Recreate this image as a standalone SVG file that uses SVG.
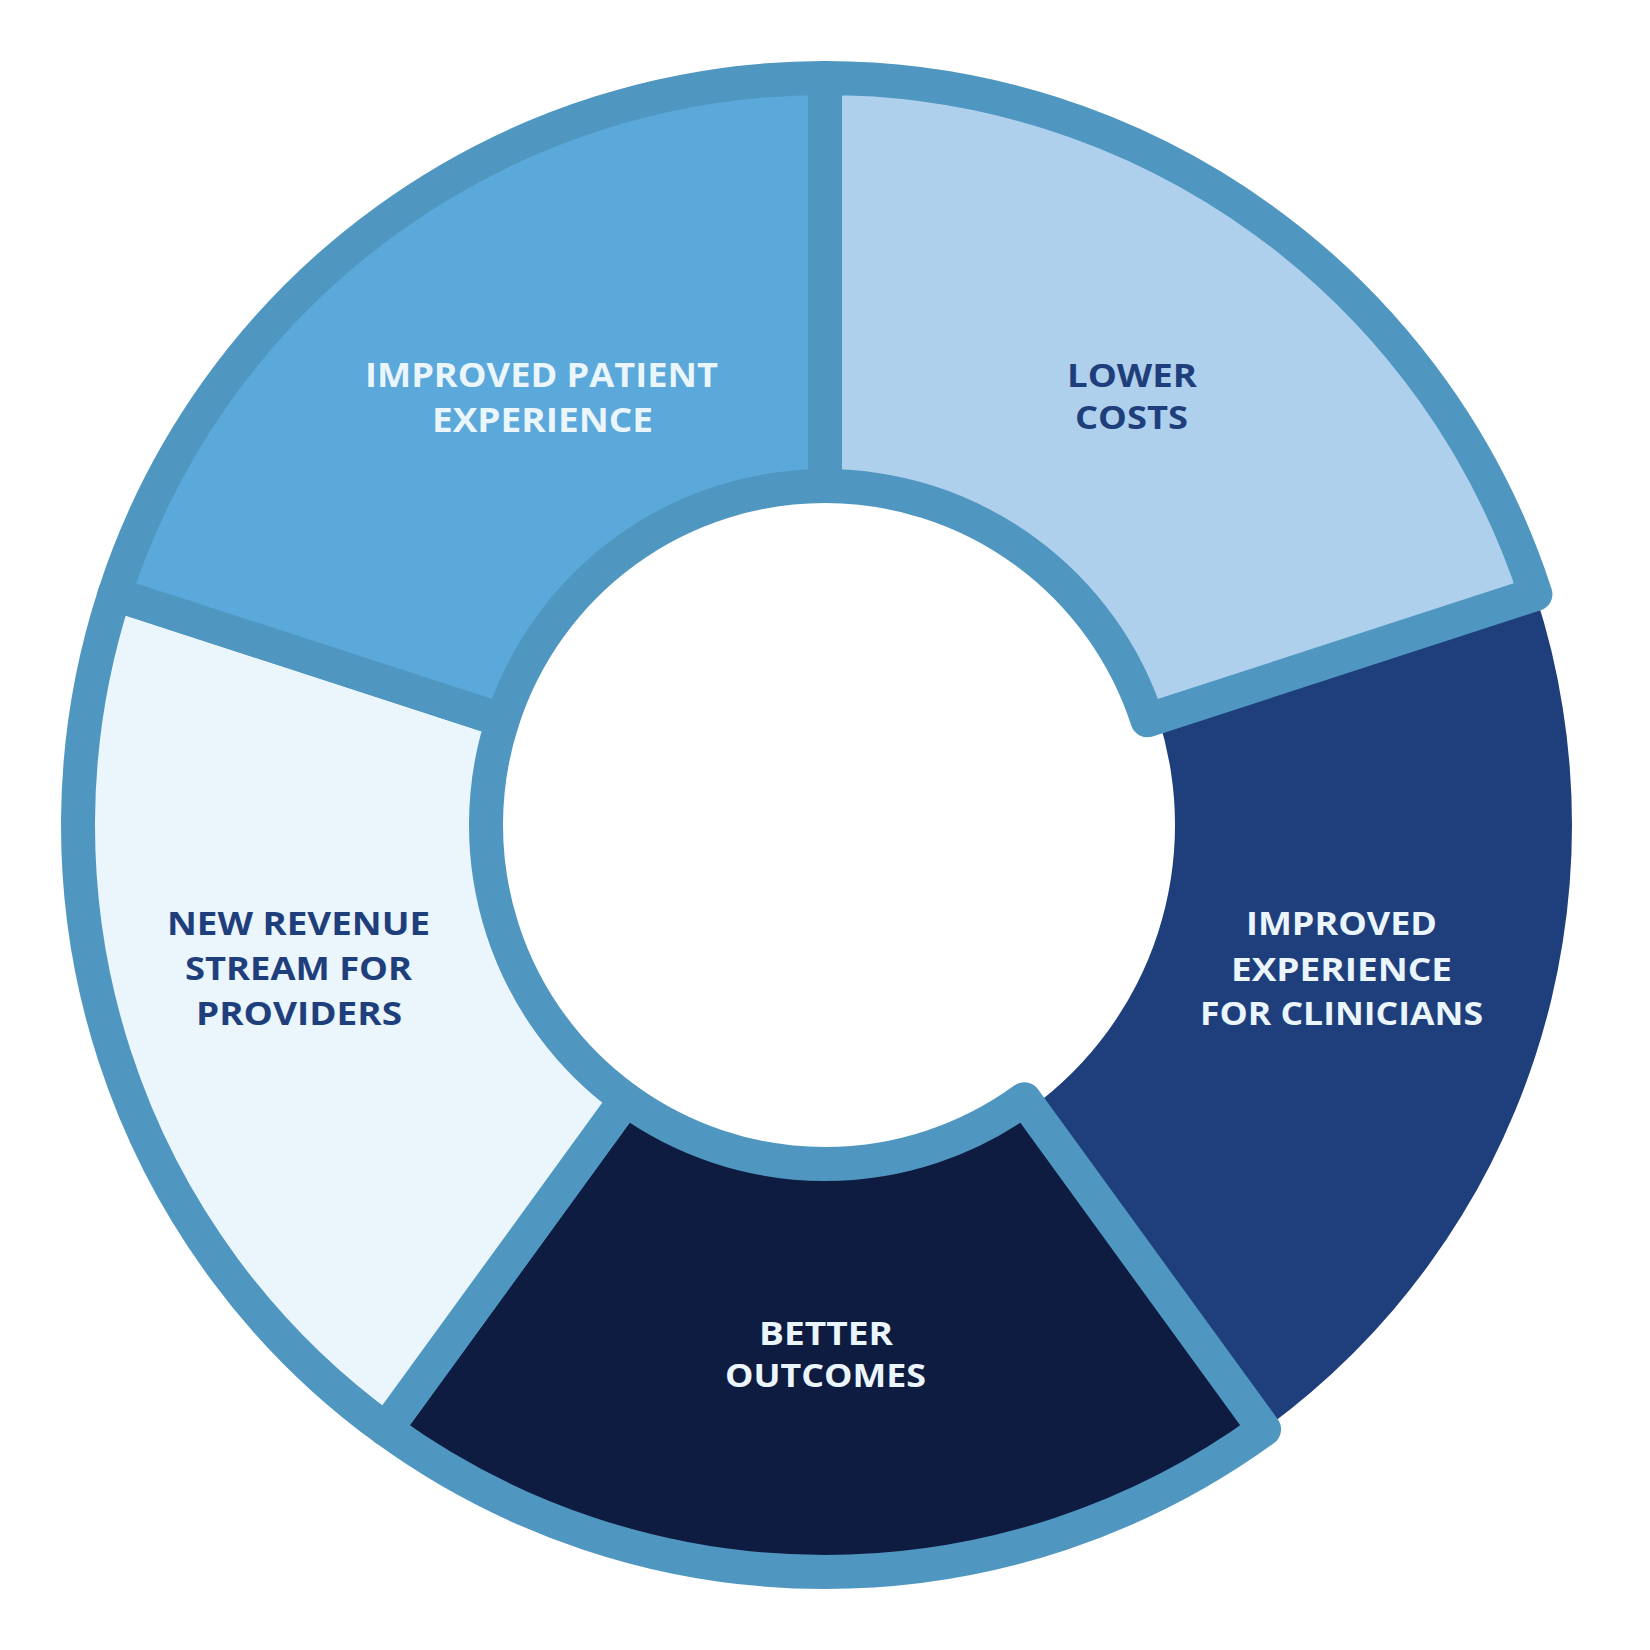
<svg xmlns="http://www.w3.org/2000/svg" width="1650" height="1650" viewBox="0 0 1650 1650">
<style>
.seg{stroke:#4F97C0;stroke-width:34;stroke-linejoin:round}
.t{font-family:"Open Sans","Liberation Sans",sans-serif;font-weight:700;font-size:32px;text-anchor:middle}
.dk{fill:#1F3F7C}
.lt{fill:#EAF5FC}
</style>
<rect width="1650" height="1650" fill="#FFFFFF"/>
<g id="node-clinicians">
<path d="M 1535.44 594.16 A 747 747 0 0 1 1264.08 1429.34 L 1030.72 1108.16 A 350 350 0 0 0 1157.87 716.84 Z" fill="#1F3F7C"/>
<text class="t lt"><tspan x="1341.5" y="935" textLength="191" lengthAdjust="spacingAndGlyphs">IMPROVED</tspan><tspan x="1341.5" y="981" textLength="221" lengthAdjust="spacingAndGlyphs">EXPERIENCE</tspan><tspan x="1341.5" y="1025" textLength="283" lengthAdjust="spacingAndGlyphs">FOR CLINICIANS</tspan></text>
</g>
<g id="node-lower-costs">
<path class="seg" d="M 825 78 A 747 747 0 0 1 1535.44 594.16 L 1147.41 720.24 A 339 339 0 0 0 825 486 Z" fill="#AFD0EC"/>
<text class="t dk"><tspan x="1132" y="387" textLength="130" lengthAdjust="spacingAndGlyphs">LOWER</tspan><tspan x="1131.5" y="429" textLength="113" lengthAdjust="spacingAndGlyphs">COSTS</tspan></text>
</g>
<g id="node-better-outcomes">
<path class="seg" d="M 1264.08 1429.34 A 747 747 0 0 1 385.92 1429.34 L 625.74 1099.26 A 339 339 0 0 0 1024.26 1099.26 Z" fill="#0F1C41"/>
<text class="t lt"><tspan x="826" y="1345" textLength="134" lengthAdjust="spacingAndGlyphs">BETTER</tspan><tspan x="825.5" y="1387" textLength="201" lengthAdjust="spacingAndGlyphs">OUTCOMES</tspan></text>
</g>
<g id="node-new-revenue">
<path class="seg" d="M 385.92 1429.34 A 747 747 0 0 1 114.56 594.16 L 502.59 720.24 A 339 339 0 0 0 625.74 1099.26 Z" fill="#EAF5FC"/>
<text class="t dk"><tspan x="298.5" y="935" textLength="263" lengthAdjust="spacingAndGlyphs">NEW REVENUE</tspan><tspan x="298.5" y="980" textLength="227" lengthAdjust="spacingAndGlyphs">STREAM FOR</tspan><tspan x="299" y="1025" textLength="206" lengthAdjust="spacingAndGlyphs">PROVIDERS</tspan></text>
</g>
<g id="node-patient-experience">
<path class="seg" d="M 114.56 594.16 A 747 747 0 0 1 825 78 L 825 486 A 339 339 0 0 0 502.59 720.24 Z" fill="#5BA8DA"/>
<text class="t lt" style="font-size:34px"><tspan x="541.5" y="387" textLength="353" lengthAdjust="spacingAndGlyphs">IMPROVED PATIENT</tspan><tspan x="542.5" y="432" textLength="221" lengthAdjust="spacingAndGlyphs">EXPERIENCE</tspan></text>
</g>
</svg>
